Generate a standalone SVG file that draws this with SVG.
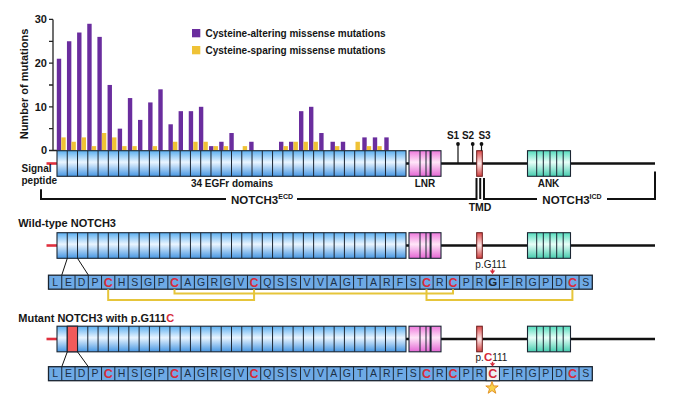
<svg xmlns="http://www.w3.org/2000/svg" xmlns:xlink="http://www.w3.org/1999/xlink" width="700" height="396" viewBox="0 0 700 396">
<style>
text{font-family:"Liberation Sans",Arial,sans-serif;fill:#161616}
.b{font-weight:bold}
.pu{fill:#6a2d9e}
.ye{fill:#efc236}
.ln{fill:none;stroke:#111;stroke-width:2}
.bb{stroke:#111;stroke-width:2.6}
.sig{stroke:#e0303e;stroke-width:2.6}
.dv{fill:none;stroke:#1b2633;stroke-width:1}
.box{stroke:#1b2633;stroke-width:1.1}
.aa{font-size:10.5px;fill:#1d3046;text-anchor:middle}
.cy{font-size:12.5px;font-weight:bold;fill:#d62a3a;text-anchor:middle}
.ss{fill:none;stroke:#e6c53a;stroke-width:2}
.zm{fill:none;stroke:#111;stroke-width:1}
</style>
<defs>
<linearGradient id="gE" x1="0" y1="0" x2="0" y2="1"><stop offset="0" stop-color="#5aaef0"/><stop offset="0.45" stop-color="#eaf5ff"/><stop offset="1" stop-color="#4696e2"/></linearGradient>
<linearGradient id="gL" x1="0" y1="0" x2="0" y2="1"><stop offset="0" stop-color="#ee78dc"/><stop offset="0.45" stop-color="#ffe6f8"/><stop offset="1" stop-color="#e466d4"/></linearGradient>
<linearGradient id="gA" x1="0" y1="0" x2="0" y2="1"><stop offset="0" stop-color="#52dcbc"/><stop offset="0.45" stop-color="#e8fff8"/><stop offset="1" stop-color="#44ccae"/></linearGradient>
<linearGradient id="gT" x1="0" y1="0" x2="0" y2="1"><stop offset="0" stop-color="#dc4a4a"/><stop offset="0.5" stop-color="#ffe8e8"/><stop offset="1" stop-color="#d04040"/></linearGradient>
<g id="protein">
<line class="bb" x1="400" y1="0" x2="655" y2="0"/>
<line class="sig" x1="46.5" y1="0" x2="57" y2="0"/>
<rect class="box" x="57" y="-12.8" width="349" height="25.6" fill="url(#gE)"/>
<path class="dv" d="M67.26 -12.8v25.6M77.53 -12.8v25.6M87.79 -12.8v25.6M98.06 -12.8v25.6M108.32 -12.8v25.6M118.59 -12.8v25.6M128.85 -12.8v25.6M139.12 -12.8v25.6M149.38 -12.8v25.6M159.65 -12.8v25.6M169.91 -12.8v25.6M180.18 -12.8v25.6M190.44 -12.8v25.6M200.71 -12.8v25.6M210.97 -12.8v25.6M221.24 -12.8v25.6M231.5 -12.8v25.6M241.77 -12.8v25.6M252.03 -12.8v25.6M262.3 -12.8v25.6M272.56 -12.8v25.6M282.83 -12.8v25.6M293.09 -12.8v25.6M303.36 -12.8v25.6M313.62 -12.8v25.6M323.89 -12.8v25.6M334.15 -12.8v25.6M344.42 -12.8v25.6M354.68 -12.8v25.6M364.95 -12.8v25.6M375.21 -12.8v25.6M385.48 -12.8v25.6M395.74 -12.8v25.6"/>
<rect class="box" x="409" y="-12.8" width="32" height="25.6" fill="url(#gL)"/>
<path class="dv" d="M420 -12.8v25.6M426 -12.8v25.6"/>
<path d="M430.6 -12.8v25.6" stroke="#1b2633" stroke-width="2"/>
<rect x="476.7" y="-12.8" width="5.6" height="25.6" fill="url(#gT)" stroke="#6a1a1a" stroke-width="1"/>
<rect class="box" x="527.5" y="-12.8" width="43" height="25.6" fill="url(#gA)"/>
<path class="dv" d="M536.7 -12.8v25.6M543.3 -12.8v25.6M550 -12.8v25.6M556.7 -12.8v25.6M563.2 -12.8v25.6"/>
</g>
<g id="seq">
<rect x="48.5" y="0" width="543.8" height="14" fill="#6eaae6" stroke="#1a2430" stroke-width="1.3"/>
<path class="dv" d="M61.76 0v14M75.03 0v14M88.29 0v14M101.55 0v14M114.82 0v14M128.08 0v14M141.34 0v14M154.6 0v14M167.87 0v14M181.13 0v14M194.39 0v14M207.66 0v14M220.92 0v14M234.18 0v14M247.45 0v14M260.71 0v14M273.97 0v14M287.23 0v14M300.5 0v14M313.76 0v14M327.02 0v14M340.29 0v14M353.55 0v14M366.81 0v14M380.08 0v14M393.34 0v14M406.6 0v14M419.86 0v14M433.13 0v14M446.39 0v14M459.65 0v14M472.92 0v14M486.18 0v14M499.44 0v14M512.71 0v14M525.97 0v14M539.23 0v14M552.5 0v14M565.76 0v14M579.02 0v14"/>
<text class="aa" y="10.8" x="55.13 68.39 81.66 94.92 121.45 134.71 147.97 161.24 187.76 201.03 214.29 227.55 240.82 267.34 280.61 293.87 307.13 320.4 333.66 346.92 360.19 373.45 386.71 399.98 413.24 439.77 466.29 479.56 506.08 519.35 532.61 545.87 559.14 585.66">LEDPHSGPAGRGVQSSVVAGTARFSRPRFRGPDS</text>
<text class="cy" y="11.6" x="108.18 174.5 254.08 426.5 453.03 572.4">CCCCCC</text>
</g>
</defs>

<g id="chart">
<text class="b" font-size="11" transform="translate(28,84) rotate(-90)" text-anchor="middle">Number of mutations</text>
<g class="b" font-size="11" text-anchor="end">
<text x="47" y="23.3">30</text><text x="47" y="67">20</text><text x="47" y="110.7">10</text><text x="47" y="154.4">0</text>
</g>
<path d="M53 19.4V150.5H57M49 19.4H53M49 41.3H53M49 63.1H53M49 85H53M49 106.8H53M49 128.7H53M49 150.5H53" fill="none" stroke="#222" stroke-width="1.3"/>
<g class="pu">
<rect x="56.8" y="58.73" width="4.4" height="91.77"/>
<rect x="66.95" y="41.25" width="4.4" height="109.25"/>
<rect x="77.1" y="32.51" width="4.4" height="117.99"/>
<rect x="87.25" y="23.77" width="4.4" height="126.73"/>
<rect x="97.4" y="36.88" width="4.4" height="113.62"/>
<rect x="107.55" y="84.95" width="4.4" height="65.55"/>
<rect x="117.7" y="128.65" width="4.4" height="21.85"/>
<rect x="127.85" y="98.06" width="4.4" height="52.44"/>
<rect x="138" y="119.91" width="4.4" height="30.59"/>
<rect x="148.15" y="102.43" width="4.4" height="48.07"/>
<rect x="158.3" y="89.32" width="4.4" height="61.18"/>
<rect x="168.45" y="124.28" width="4.4" height="26.22"/>
<rect x="178.6" y="111.17" width="4.4" height="39.33"/>
<rect x="188.75" y="111.17" width="4.4" height="39.33"/>
<rect x="198.9" y="106.8" width="4.4" height="43.7"/>
<rect x="209.05" y="146.13" width="4.4" height="4.37"/>
<rect x="219.2" y="141.76" width="4.4" height="8.74"/>
<rect x="229.35" y="133.02" width="4.4" height="17.48"/>
<rect x="249.2" y="141.76" width="4.4" height="8.74"/>
<rect x="279" y="141.76" width="4.4" height="8.74"/>
<rect x="289" y="141.76" width="4.4" height="8.74"/>
<rect x="299" y="111.17" width="4.4" height="39.33"/>
<rect x="309" y="106.8" width="4.4" height="43.7"/>
<rect x="319.2" y="133.02" width="4.4" height="17.48"/>
<rect x="330.5" y="141.76" width="4.4" height="8.74"/>
<rect x="340.8" y="141.76" width="4.4" height="8.74"/>
<rect x="362.3" y="137.39" width="4.4" height="13.11"/>
<rect x="372.8" y="137.39" width="4.4" height="13.11"/>
<rect x="384.3" y="137.39" width="4.4" height="13.11"/>
</g>
<g class="ye">
<rect x="61.3" y="137.39" width="4.4" height="13.11"/>
<rect x="71.45" y="141.76" width="4.4" height="8.74"/>
<rect x="81.6" y="137.39" width="4.4" height="13.11"/>
<rect x="91.75" y="146.13" width="4.4" height="4.37"/>
<rect x="101.9" y="133.02" width="4.4" height="17.48"/>
<rect x="112.05" y="137.39" width="4.4" height="13.11"/>
<rect x="122.2" y="146.13" width="4.4" height="4.37"/>
<rect x="132.35" y="146.13" width="4.4" height="4.37"/>
<rect x="152.65" y="146.13" width="4.4" height="4.37"/>
<rect x="172.95" y="141.76" width="4.4" height="8.74"/>
<rect x="193.25" y="141.76" width="4.4" height="8.74"/>
<rect x="203.4" y="141.76" width="4.4" height="8.74"/>
<rect x="213.55" y="146.13" width="4.4" height="4.37"/>
<rect x="223.7" y="146.13" width="4.4" height="4.37"/>
<rect x="242.7" y="146.13" width="4.4" height="4.37"/>
<rect x="283.5" y="146.13" width="4.4" height="4.37"/>
<rect x="293.5" y="141.76" width="4.4" height="8.74"/>
<rect x="303.5" y="141.76" width="4.4" height="8.74"/>
<rect x="313.5" y="141.76" width="4.4" height="8.74"/>
<rect x="335" y="146.13" width="4.4" height="4.37"/>
<rect x="355.5" y="141.76" width="4.4" height="8.74"/>
<rect x="366.8" y="146.13" width="4.4" height="4.37"/>
<rect x="377.3" y="146.13" width="4.4" height="4.37"/>
</g>
<g id="legend">
<rect class="pu" x="192" y="29" width="8.3" height="8.3"/>
<text class="b" font-size="10" x="205.5" y="37">Cysteine-altering missense mutations</text>
<rect class="ye" x="192" y="46" width="8.3" height="8.3"/>
<text class="b" font-size="10" x="205.5" y="54">Cysteine-sparing missense mutations</text>
</g>
</g>

<g id="row1">
<use xlink:href="#protein" href="#protein" transform="translate(0,163.5)"/>
<path d="M458 163.5V144M472.7 163.5V144M481.5 150.7V144" stroke="#111" stroke-width="1.2"/>
<circle cx="458" cy="144" r="1.9" fill="#111"/><circle cx="472.7" cy="144" r="1.9" fill="#111"/><circle cx="481.5" cy="144" r="1.9" fill="#111"/>
<g class="b" font-size="10" text-anchor="middle">
<text x="453" y="139">S1</text><text x="468" y="139">S2</text><text x="484.5" y="139">S3</text>
<text x="21.5" y="172" text-anchor="start">Signal</text>
<text x="21.5" y="184" text-anchor="start">peptide</text>
<text x="232" y="186.5">34 EGFr domains</text>
<text x="425" y="186.5">LNR</text>
<text x="548.5" y="186.5">ANK</text>
<text x="480" y="211" font-size="10.5">TMD</text>
</g>
<path class="ln" d="M41 189.3V199H226M297 199H476.5V178"/>
<path class="ln" d="M480.2 178V199" stroke-width="1.6"/>
<path class="ln" d="M484 178V199H537M607 199H655V171.5"/>
<text class="b" font-size="11.5" x="262" y="203.5" text-anchor="middle">NOTCH3<tspan font-size="7" dy="-4.2">ECD</tspan></text>
<text class="b" font-size="11.5" x="572" y="203.5" text-anchor="middle">NOTCH3<tspan font-size="7" dy="-4.2">ICD</tspan></text>
</g>

<g id="row2">
<text class="b" font-size="11" x="18.3" y="226.5">Wild-type NOTCH3</text>
<use xlink:href="#protein" href="#protein" transform="translate(0,245.5)"/>
<path class="zm" d="M67.3 258.3L61.8 275M77.5 258.3L88.3 275"/>
<use xlink:href="#seq" href="#seq" transform="translate(0,275.2)"/>
<text class="b aa" x="492.82" y="286" style="fill:#1d2632;font-size:11.5px">G</text>
<text font-size="10" x="491" y="267.5" text-anchor="middle" fill="#222">p.G111</text>
<path d="M492.5 268.8V271" stroke="#d62a3a" stroke-width="1.4"/>
<path d="M489.8 270.5H495.2L492.5 274.2Z" fill="#d62a3a"/>
<path class="ss" d="M108.18 289.3V300H254.08V289.3M174.5 289.3V293.6H453.03V289.3M426.5 289.3V300H572.4V289.3"/>
</g>

<g id="row3">
<text class="b" font-size="11" x="18.3" y="321.5">Mutant NOTCH3 with p.G111<tspan style="fill:#d62a3a">C</tspan></text>
<use xlink:href="#protein" href="#protein" transform="translate(0,339)"/>
<rect x="67.26" y="326.2" width="10.27" height="25.6" fill="#f25a5a" stroke="#1b2633" stroke-width="1.1"/>
<path class="zm" d="M67.3 351.8L61.8 366.7M77.5 351.8L88.3 366.7"/>
<use xlink:href="#seq" href="#seq" transform="translate(0,366.7)"/>
<rect x="486.18" y="366.7" width="13.26" height="14" fill="#eef0f2" stroke="#1a2430" stroke-width="1"/>
<text class="cy" x="492.82" y="378.3">C</text>
<text font-size="10" x="491.5" y="361.3" text-anchor="middle" fill="#222">p.<tspan font-weight="bold" font-size="11.5" style="fill:#d62a3a">C</tspan>111</text>
<path d="M492.5 361.8V363.8" stroke="#d62a3a" stroke-width="1.4"/>
<path d="M489.8 363.3H495.2L492.5 366.6Z" fill="#d62a3a"/>
<polygon points="492,381.5 493.53,385.9 498.18,385.99 494.47,388.8 495.82,393.26 492,390.6 488.18,393.26 489.53,388.8 485.82,385.99 490.47,385.9" fill="#f8d24a" stroke="#e08a1a" stroke-width="0.9"/>
</g>
</svg>
